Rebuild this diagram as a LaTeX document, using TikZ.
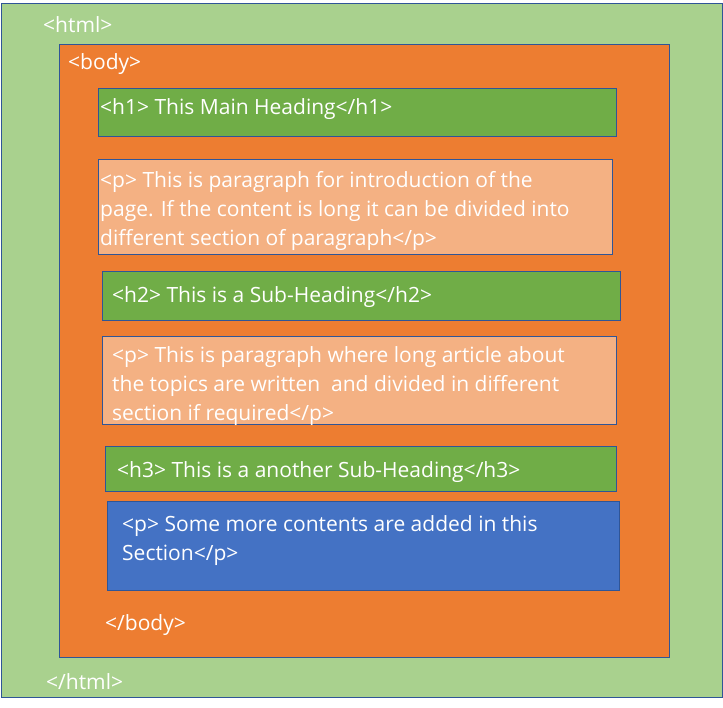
\documentclass[tikz,border=0pt]{standalone}
\usepackage{fontspec}
\setmainfont{Open Sans}
\definecolor{lg}{HTML}{A9D18E}
\definecolor{org}{HTML}{ED7D31}
\definecolor{grn}{HTML}{70AD47}
\definecolor{lor}{HTML}{F4B183}
\definecolor{blu}{HTML}{4472C4}
\definecolor{edge}{HTML}{2F5597}
\begin{document}
\begin{tikzpicture}[x=1pt,y=-1pt,
  box/.style={draw=edge,line width=0.8pt},
  lbl/.style={text=white,font=\fontsize{21}{29}\selectfont,inner sep=0pt,anchor=west,align=left}]
\useasboundingbox (0,0) rectangle (723,707);
\filldraw[box,fill=lg] (1,3) rectangle (722,697);
\filldraw[box,fill=org] (59,44) rectangle (669,657);
\filldraw[box,fill=grn] (98,88) rectangle (616,136);
\filldraw[box,fill=lor] (98,159) rectangle (612,254);
\filldraw[box,fill=grn] (102,271) rectangle (620,320);
\filldraw[box,fill=lor] (102,336) rectangle (616,424);
\filldraw[box,fill=grn] (105,446) rectangle (616,491);
\filldraw[box,fill=blu] (107,501) rectangle (619,590);
\node[lbl] (html) at (43,25) {<html>};
\node[lbl] (body) at (68,64) {<body>};
\node[lbl] (h1) at (100,109) {<h1> This Main Heading</h1>};
\node[lbl] (p1) at (100,211) {<p> This is paragraph for introduction of the\\page. If the content is long it can be divided into\\different section of paragraph</p>};
\node[lbl] (h2) at (112,297) {<h2> This is a Sub-Heading</h2>};
\node[lbl] (p2) at (112,386) {<p> This is paragraph where long article about\\the topics are written\ \ and divided in different\\section if required</p>};
\node[lbl] (h3) at (117,472) {<h3> This is a another Sub-Heading</h3>};
\node[lbl] (p3) at (122,541) {<p> Some more contents are added in this\\Section</p>};
\node[lbl] (ebody) at (105,625) {</body>};
\node[lbl] (ehtml) at (46,682) {</html>};
\end{tikzpicture}
\end{document}
